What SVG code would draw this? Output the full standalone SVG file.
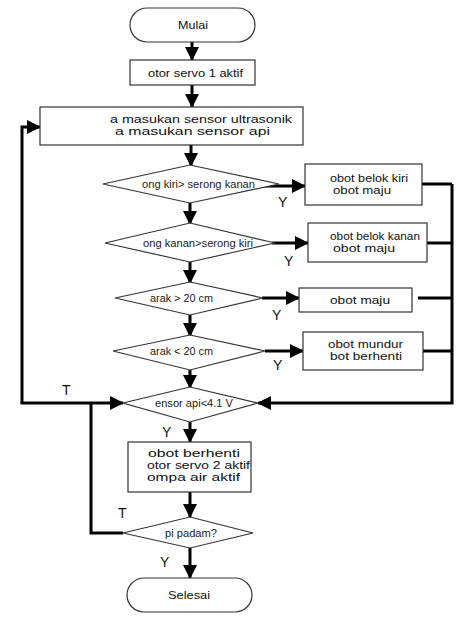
<svg xmlns="http://www.w3.org/2000/svg" width="474" height="632" viewBox="0 0 474 632">
<defs>
<marker id="ah" markerUnits="userSpaceOnUse" markerWidth="14" markerHeight="14" viewBox="0 0 14 14" refX="13" refY="7" orient="auto">
<path d="M0,0 L14,7 L0,14 Z" fill="#000"/>
</marker>
</defs>
<style>
.s{fill:#fff;stroke:#333;stroke-width:1.2}
.t{font-family:"Liberation Sans",Arial,sans-serif;font-size:11px;fill:#111}
.d{font-family:"Liberation Sans",Arial,sans-serif;font-size:10.5px;fill:#222}
.c{fill:none;stroke:#000;stroke-width:3}
.a{marker-end:url(#ah)}
.l{font-family:"Liberation Sans",Arial,sans-serif;font-size:14px;fill:#111}
</style>
<rect width="474" height="632" fill="#fff"/>
<g id="connectors">
<line class="c a" x1="192" y1="42" x2="192" y2="60"/>
<line class="c a" x1="192" y1="85" x2="192" y2="107"/>
<line class="c a" x1="191" y1="145" x2="191" y2="166"/>
<line class="c a" x1="262" y1="186" x2="305" y2="186"/>
<line class="c a" x1="190" y1="203" x2="190" y2="224"/>
<line class="c a" x1="272" y1="243" x2="308" y2="243"/>
<line class="c a" x1="190" y1="262" x2="190" y2="283"/>
<line class="c a" x1="262" y1="298" x2="299" y2="298"/>
<line class="c a" x1="190" y1="315" x2="190" y2="336"/>
<line class="c a" x1="265" y1="351" x2="303" y2="351"/>
<line class="c a" x1="190" y1="370" x2="190" y2="388"/>
<polyline class="c" points="422,184 452,184"/>
<polyline class="c" points="427,243 452,243"/>
<polyline class="c" points="418,298 452,298"/>
<polyline class="c" points="423,351 452,351"/>
<polyline class="c a" points="452,184 452,403 258,403"/>
<line class="c a" x1="190" y1="422" x2="190" y2="442"/>
<polyline class="c a" points="22,403 22,127 40,127"/>
<line class="c a" x1="20.5" y1="403" x2="123" y2="403"/>
<polyline class="c" points="91,403 91,533 123,533"/>
<line class="c a" x1="190" y1="492" x2="190" y2="517"/>
<line class="c a" x1="190" y1="548" x2="190" y2="578"/>
<text class="l" x="62" y="395">T</text>
<text class="l" x="118" y="518">T</text>
<text class="l" x="278" y="207">Y</text>
<text class="l" x="284" y="266">Y</text>
<text class="l" x="272" y="320">Y</text>
<text class="l" x="273" y="370">Y</text>
<text class="l" x="162" y="437">Y</text>
<text class="l" x="160" y="567">Y</text>
</g>
<g id="mulai">
<rect class="s" x="130" y="8" width="125" height="34" rx="17"/>
<text class="t" x="178" y="29" textLength="30" lengthAdjust="spacingAndGlyphs">Mulai</text>
</g>
<g id="servo1">
<rect class="s" x="130" y="60" width="125" height="25"/>
<text class="t" x="148" y="77" textLength="95" lengthAdjust="spacingAndGlyphs">otor servo 1 aktif</text>
</g>
<g id="baca">
<rect class="s" x="40" y="107" width="263" height="38"/>
<text class="t" x="110" y="123" textLength="182" lengthAdjust="spacingAndGlyphs">a masukan sensor ultrasonik</text>
<text class="t" x="115" y="135" textLength="155" lengthAdjust="spacingAndGlyphs">a masukan sensor api</text>
</g>
<g id="d1">
<polygon class="s" points="190,165 279,184 190,203 103,184"/>
<text class="d" x="142" y="188" textLength="113" lengthAdjust="spacingAndGlyphs">ong kiri&gt; serong kanan</text>
</g>
<g id="b1">
<rect class="s" x="305" y="164" width="117" height="41"/>
<text class="t" x="330" y="182" textLength="78" lengthAdjust="spacingAndGlyphs">obot belok kiri</text>
<text class="t" x="333" y="194" textLength="58" lengthAdjust="spacingAndGlyphs">obot maju</text>
</g>
<g id="d2">
<polygon class="s" points="190,223 275,243 190,262 105,243"/>
<text class="d" x="143" y="247" textLength="110" lengthAdjust="spacingAndGlyphs">ong kanan&gt;serong kiri</text>
</g>
<g id="b2">
<rect class="s" x="308" y="223" width="119" height="39"/>
<text class="t" x="330" y="240" textLength="90" lengthAdjust="spacingAndGlyphs">obot belok kanan</text>
<text class="t" x="333" y="252" textLength="62" lengthAdjust="spacingAndGlyphs">obot maju</text>
</g>
<g id="d3">
<polygon class="s" points="190,282 263,298 190,315 115,298"/>
<text class="d" x="150" y="302" textLength="63" lengthAdjust="spacingAndGlyphs">arak &gt; 20 cm</text>
</g>
<g id="b3">
<rect class="s" x="299" y="288" width="113" height="24"/>
<text class="t" x="330" y="304" textLength="60" lengthAdjust="spacingAndGlyphs">obot maju</text>
</g>
<g id="d4">
<polygon class="s" points="190,335 265,351 190,370 113,351"/>
<text class="d" x="150" y="355" textLength="63" lengthAdjust="spacingAndGlyphs">arak &lt; 20 cm</text>
</g>
<g id="b4">
<rect class="s" x="303" y="332" width="120" height="38"/>
<text class="t" x="328" y="348" textLength="75" lengthAdjust="spacingAndGlyphs">obot mundur</text>
<text class="t" x="330" y="360" textLength="72" lengthAdjust="spacingAndGlyphs">bot berhenti</text>
</g>
<g id="d5">
<polygon class="s" points="190,387 258,403 190,422 123,403"/>
<text class="d" x="155" y="407" textLength="78" lengthAdjust="spacingAndGlyphs">ensor api&lt;4.1 V</text>
</g>
<g id="b5">
<rect class="s" x="128" y="442" width="123" height="50"/>
<text class="t" x="148" y="457" textLength="92" lengthAdjust="spacingAndGlyphs">obot berhenti</text>
<text class="t" x="147" y="469" textLength="103" lengthAdjust="spacingAndGlyphs">otor servo 2 aktif</text>
<text class="t" x="147" y="481" textLength="93" lengthAdjust="spacingAndGlyphs">ompa air aktif</text>
</g>
<g id="d6">
<polygon class="s" points="190,517 253,533 190,548 123,533"/>
<text class="d" x="165" y="537" textLength="52" lengthAdjust="spacingAndGlyphs">pi padam?</text>
</g>
<g id="selesai">
<rect class="s" x="127" y="578" width="125" height="34" rx="17"/>
<text class="t" x="168" y="599" textLength="42" lengthAdjust="spacingAndGlyphs">Selesai</text>
</g>
</svg>
